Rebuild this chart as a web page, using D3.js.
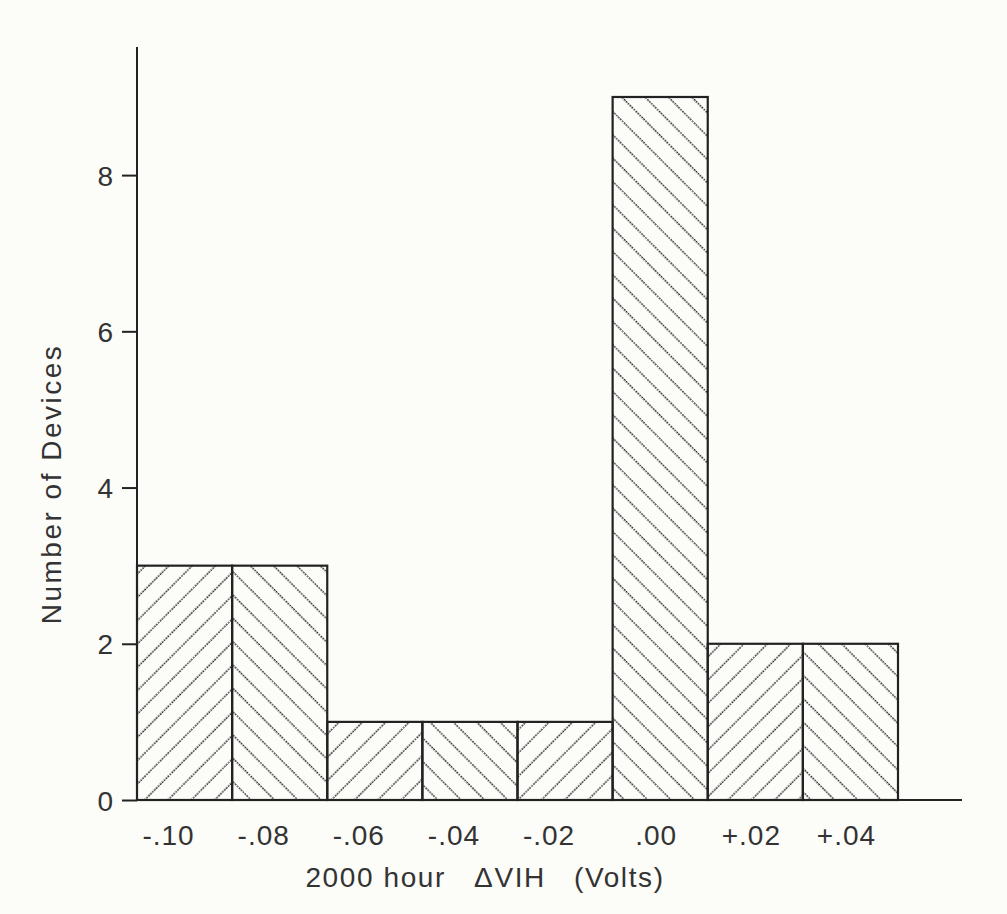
<!DOCTYPE html>
<html>
<head>
<meta charset="utf-8">
<script src="https://cdn.jsdelivr.net/npm/d3@7"></script>
<style>
  html, body { margin: 0; padding: 0; background: #fcfcf8; }
  svg { display: block; }
  text { font-family: "Liberation Sans", Arial, Helvetica, sans-serif; fill: #333; }
</style>
</head>
<body>
<div id="chart"></div>
<script>
// ---- data ----
const categories = ["-.10", "-.08", "-.06", "-.04", "-.02", ".00", "+.02", "+.04"];
const counts = [3, 3, 1, 1, 1, 9, 2, 2];
const yTicks = [0, 2, 4, 6, 8];
const xTitle = "2000 hour   \u0394VIH   (Volts)";
const yTitle = "Number of Devices";

// ---- layout ----
const W = 1007, H = 914;
const plot = { left: 137, right: 898, top: 47, bottom: 800, axisEnd: 962 };
const ink = "#222";

const svg = d3.select("#chart").append("svg")
  .attr("width", W).attr("height", H);
svg.append("rect").attr("width", W).attr("height", H).attr("fill", "#fcfcf8");

const x = d3.scaleBand().domain(categories).range([plot.left, plot.right]).padding(0);
const y = d3.scaleLinear().domain([0, 9.64]).range([plot.bottom, plot.top]);

// hatch patterns
const defs = svg.append("defs");
[["hatchA", -45], ["hatchB", 45]].forEach(([id, ang]) => {
  const p = defs.append("pattern")
    .attr("id", id).attr("patternUnits", "userSpaceOnUse")
    .attr("width", 16.5).attr("height", 16.5)
    .attr("patternTransform", `rotate(${ang})`);
  p.append("line")
    .attr("x1", 8).attr("y1", 0).attr("x2", 8).attr("y2", 16.5)
    .attr("stroke", "#1e1e1e").attr("stroke-width", 1.5)
    .attr("stroke-dasharray", "1.6 1.15");
});

// bars
svg.append("g").selectAll("rect")
  .data(categories.map((c, i) => ({ c, v: counts[i], i })))
  .join("rect")
  .attr("x", d => x(d.c))
  .attr("y", d => y(d.v))
  .attr("width", x.bandwidth())
  .attr("height", d => y(0) - y(d.v))
  .attr("fill", d => d.i % 2 === 0 ? "url(#hatchB)" : "url(#hatchA)")
  .attr("stroke", ink)
  .attr("stroke-width", 2.2);

// y axis
const yAxis = d3.axisLeft(y).tickValues(yTicks).tickSize(15).tickPadding(9);
const gy = svg.append("g").attr("transform", `translate(${plot.left},0)`).call(yAxis);
gy.select(".domain").remove();
gy.append("line").attr("x1", 0).attr("x2", 0)
  .attr("y1", y.range()[1]).attr("y2", y(0))
  .attr("stroke", ink).attr("stroke-width", 2);
gy.selectAll(".tick line").attr("stroke", ink).attr("stroke-width", 2);
gy.selectAll(".tick text")
  .attr("font-size", 28).attr("fill", "#333")
  .attr("font-family", "'Liberation Sans', Arial, sans-serif")
  .attr("dy", "0.36em");

// x axis baseline
svg.append("line")
  .attr("x1", plot.left).attr("x2", plot.axisEnd)
  .attr("y1", y(0)).attr("y2", y(0))
  .attr("stroke", ink).attr("stroke-width", 2);

// x category labels
svg.append("g").selectAll("text")
  .data(categories)
  .join("text")
  .attr("x", d => x(d) + x.bandwidth() / 2 + (d.startsWith("-") ? -16 : -4))
  .attr("y", 845)
  .attr("text-anchor", "middle")
  .attr("font-size", 28)
  .attr("letter-spacing", 1)
  .text(d => d);

// axis titles
svg.append("text")
  .attr("x", 485).attr("y", 887)
  .attr("text-anchor", "middle")
  .attr("font-size", 28)
  .attr("letter-spacing", 1.6)
  .style("white-space", "pre")
  .text(xTitle);

svg.append("text")
  .attr("transform", `translate(61,${484}) rotate(-90)`)
  .attr("text-anchor", "middle")
  .attr("font-size", 28)
  .attr("letter-spacing", 2.5)
  .text(yTitle);
</script>
</body>
</html>
